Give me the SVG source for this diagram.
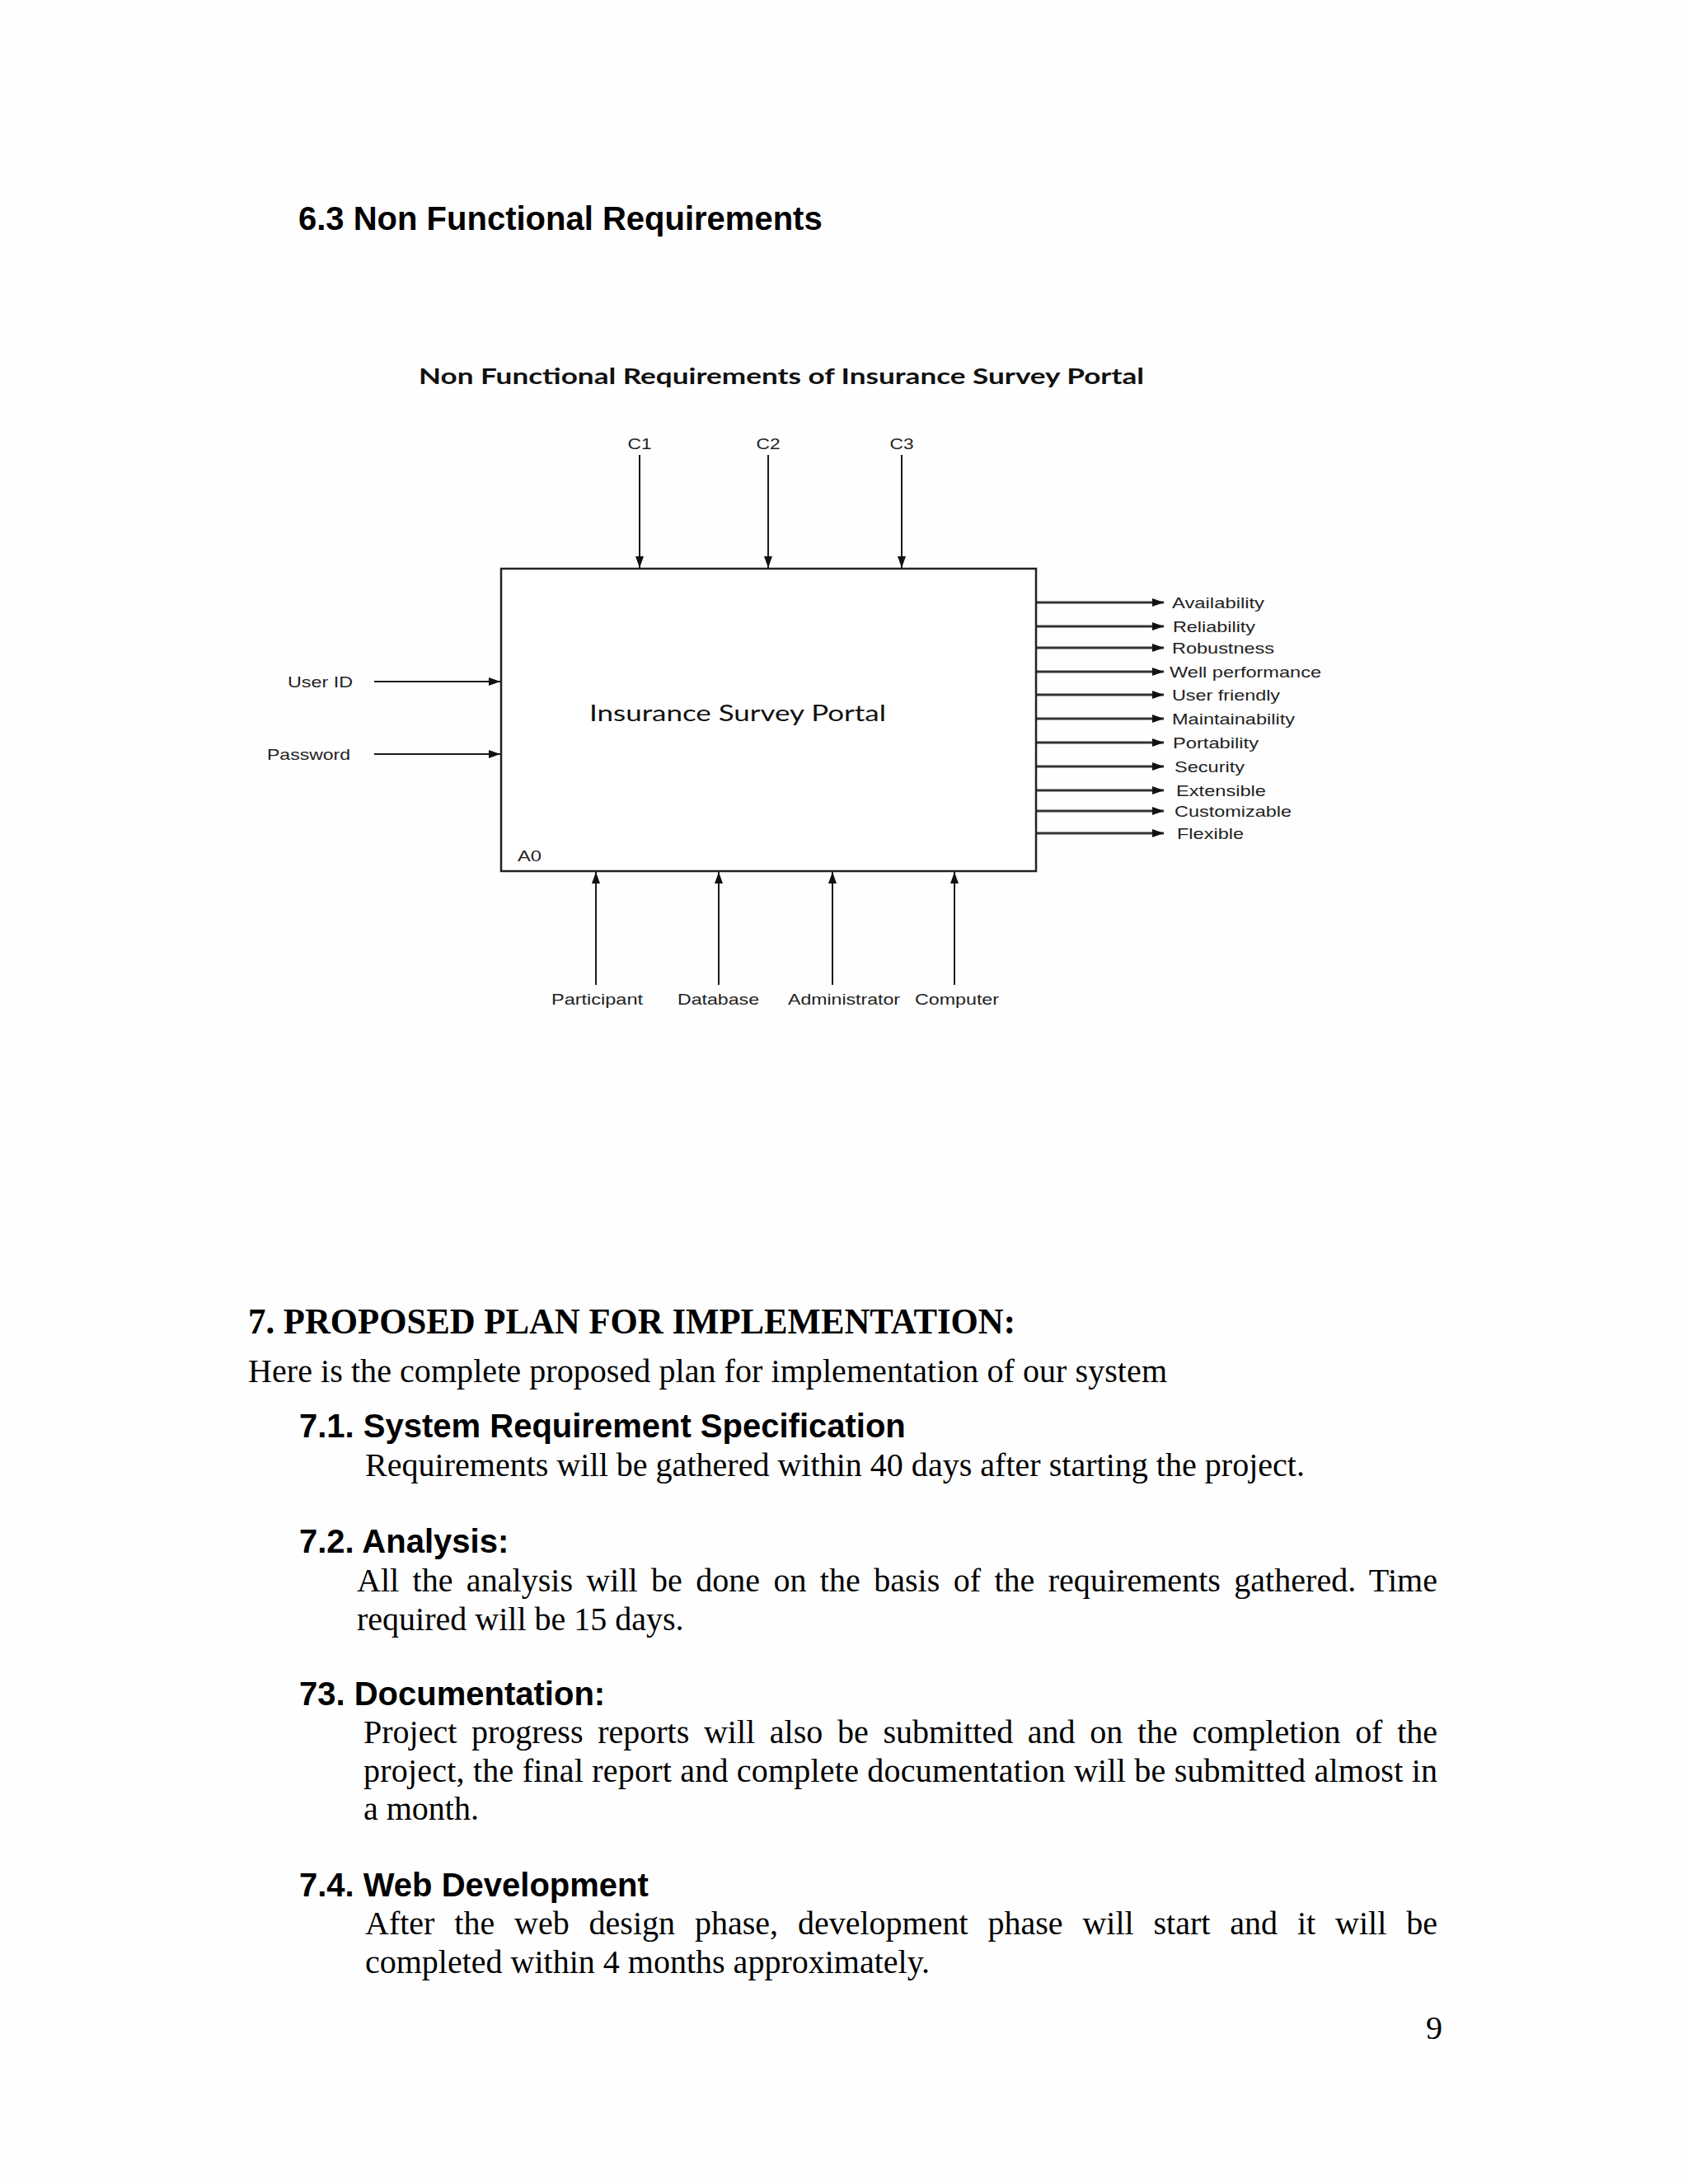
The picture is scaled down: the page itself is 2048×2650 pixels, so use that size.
<svg xmlns="http://www.w3.org/2000/svg" width="2048" height="2650" viewBox="0 0 2048 2650">
<style>
.h{font-family:"Liberation Sans",Arial,sans-serif;font-weight:bold;font-size:40px;fill:#000}
.b{font-family:"Liberation Serif","Times New Roman",serif;font-size:40px;fill:#000}
.d{font-family:"Liberation Sans",Arial,sans-serif;font-size:18.5px;fill:#222}
.c{font-family:Lato,"Liberation Sans",sans-serif;fill:#111}
.ln{stroke:#1a1a1a;stroke-width:2;fill:none}
.lo{stroke:#333;stroke-width:2.8;fill:none}
</style>
<defs>
<marker id="ah" markerWidth="14" markerHeight="10" refX="14" refY="5" orient="auto" markerUnits="userSpaceOnUse">
<path d="M0,0 L14,5 L0,10 z" fill="#111"/>
</marker>
</defs>
<rect x="0" y="0" width="2048" height="2650" fill="#fefefe"/>

<text class="h" x="362" y="279">6.3 Non Functional Requirements</text>

<g id="diagram-title">
<text class="c" x="508" y="466" font-size="26" font-weight="bold" textLength="880" lengthAdjust="spacingAndGlyphs">Non Functional Requirements of Insurance Survey Portal</text>
</g>

<g id="connectors">
<line class="ln" x1="776" y1="552" x2="776" y2="689" marker-end="url(#ah)"/>
<line class="ln" x1="932" y1="552" x2="932" y2="689" marker-end="url(#ah)"/>
<line class="ln" x1="1094" y1="552" x2="1094" y2="689" marker-end="url(#ah)"/>
<line class="ln" x1="454" y1="827" x2="607" y2="827" marker-end="url(#ah)"/>
<line class="ln" x1="454" y1="915" x2="607" y2="915" marker-end="url(#ah)"/>
<line class="ln" x1="723" y1="1195" x2="723" y2="1058" marker-end="url(#ah)"/>
<line class="ln" x1="872" y1="1195" x2="872" y2="1058" marker-end="url(#ah)"/>
<line class="ln" x1="1010" y1="1195" x2="1010" y2="1058" marker-end="url(#ah)"/>
<line class="ln" x1="1158" y1="1195" x2="1158" y2="1058" marker-end="url(#ah)"/>
<line class="lo" x1="1257" y1="731" x2="1412" y2="731" marker-end="url(#ah)"/>
<line class="lo" x1="1257" y1="760" x2="1412" y2="760" marker-end="url(#ah)"/>
<line class="lo" x1="1257" y1="786" x2="1412" y2="786" marker-end="url(#ah)"/>
<line class="lo" x1="1257" y1="815" x2="1412" y2="815" marker-end="url(#ah)"/>
<line class="lo" x1="1257" y1="843" x2="1412" y2="843" marker-end="url(#ah)"/>
<line class="lo" x1="1257" y1="872" x2="1412" y2="872" marker-end="url(#ah)"/>
<line class="lo" x1="1257" y1="901" x2="1412" y2="901" marker-end="url(#ah)"/>
<line class="lo" x1="1257" y1="930" x2="1412" y2="930" marker-end="url(#ah)"/>
<line class="lo" x1="1257" y1="959" x2="1412" y2="959" marker-end="url(#ah)"/>
<line class="lo" x1="1257" y1="984" x2="1412" y2="984" marker-end="url(#ah)"/>
<line class="lo" x1="1257" y1="1011" x2="1412" y2="1011" marker-end="url(#ah)"/>
</g>

<g id="node-a0">
<rect x="608" y="690" width="649" height="367" fill="#fff" stroke="#222" stroke-width="2.5"/>
<text class="c" x="715" y="875" font-size="26" textLength="360" lengthAdjust="spacingAndGlyphs">Insurance Survey Portal</text>
<text class="d" x="628" y="1045" textLength="29" lengthAdjust="spacingAndGlyphs">A0</text>
</g>

<g id="controls">
<text class="d" x="776" y="545" text-anchor="middle" textLength="29" lengthAdjust="spacingAndGlyphs">C1</text>
<text class="d" x="932" y="545" text-anchor="middle" textLength="29" lengthAdjust="spacingAndGlyphs">C2</text>
<text class="d" x="1094" y="545" text-anchor="middle" textLength="29" lengthAdjust="spacingAndGlyphs">C3</text>
</g>

<g id="inputs">
<text class="d" x="349" y="834" textLength="79" lengthAdjust="spacingAndGlyphs">User ID</text>
<text class="d" x="324" y="922" textLength="101" lengthAdjust="spacingAndGlyphs">Password</text>
</g>

<g id="mechanisms">
<text class="d" x="669" y="1219" textLength="111" lengthAdjust="spacingAndGlyphs">Participant</text>
<text class="d" x="822" y="1219" textLength="99" lengthAdjust="spacingAndGlyphs">Database</text>
<text class="d" x="956" y="1219" textLength="136" lengthAdjust="spacingAndGlyphs">Administrator</text>
<text class="d" x="1110" y="1219" textLength="102" lengthAdjust="spacingAndGlyphs">Computer</text>
</g>

<g id="outputs">
<text class="d" x="1422" y="738" textLength="112" lengthAdjust="spacingAndGlyphs">Availability</text>
<text class="d" x="1423" y="767" textLength="100" lengthAdjust="spacingAndGlyphs">Reliability</text>
<text class="d" x="1422" y="793" textLength="124" lengthAdjust="spacingAndGlyphs">Robustness</text>
<text class="d" x="1419" y="822" textLength="184" lengthAdjust="spacingAndGlyphs">Well performance</text>
<text class="d" x="1422" y="850" textLength="131" lengthAdjust="spacingAndGlyphs">User friendly</text>
<text class="d" x="1422" y="879" textLength="149" lengthAdjust="spacingAndGlyphs">Maintainability</text>
<text class="d" x="1423" y="908" textLength="104" lengthAdjust="spacingAndGlyphs">Portability</text>
<text class="d" x="1425" y="937" textLength="85" lengthAdjust="spacingAndGlyphs">Security</text>
<text class="d" x="1427" y="966" textLength="109" lengthAdjust="spacingAndGlyphs">Extensible</text>
<text class="d" x="1425" y="991" textLength="142" lengthAdjust="spacingAndGlyphs">Customizable</text>
<text class="d" x="1428" y="1018" textLength="81" lengthAdjust="spacingAndGlyphs">Flexible</text>
</g>

<g id="section7">
<text x="301" y="1618" font-family="'Liberation Serif','Times New Roman',serif" font-weight="bold" font-size="45" textLength="931" lengthAdjust="spacingAndGlyphs">7. PROPOSED PLAN FOR IMPLEMENTATION:</text>
<text class="b" x="301" y="1677" textLength="1115" lengthAdjust="spacing">Here is the complete proposed plan for implementation of our system</text>
<text class="h" x="363" y="1744">7.1. System Requirement Specification</text>
<text class="b" x="443" y="1791" textLength="1140" lengthAdjust="spacing">Requirements will be gathered within 40 days after starting the project.</text>
<text class="h" x="363" y="1884">7.2. Analysis:</text>
<text class="b" x="433" y="1931" word-spacing="6.3" textLength="1311" lengthAdjust="spacing">All the analysis will be done on the basis of the requirements gathered. Time</text>
<text class="b" x="433" y="1978">required will be 15 days.</text>
<text class="h" x="363" y="2069">73. Documentation:</text>
<text class="b" x="441" y="2115" word-spacing="7.7" textLength="1303" lengthAdjust="spacing">Project progress reports will also be submitted and on the completion of the</text>
<text class="b" x="441" y="2162" textLength="1303" lengthAdjust="spacing">project, the final report and complete documentation will be submitted almost in</text>
<text class="b" x="441" y="2208">a month.</text>
<text class="h" x="363" y="2301">7.4. Web Development</text>
<text class="b" x="443" y="2347" word-spacing="13.9" textLength="1301" lengthAdjust="spacing">After the web design phase, development phase will start and it will be</text>
<text class="b" x="443" y="2394">completed within 4 months approximately.</text>
<text class="b" x="1730" y="2474">9</text>
</g>
</svg>
